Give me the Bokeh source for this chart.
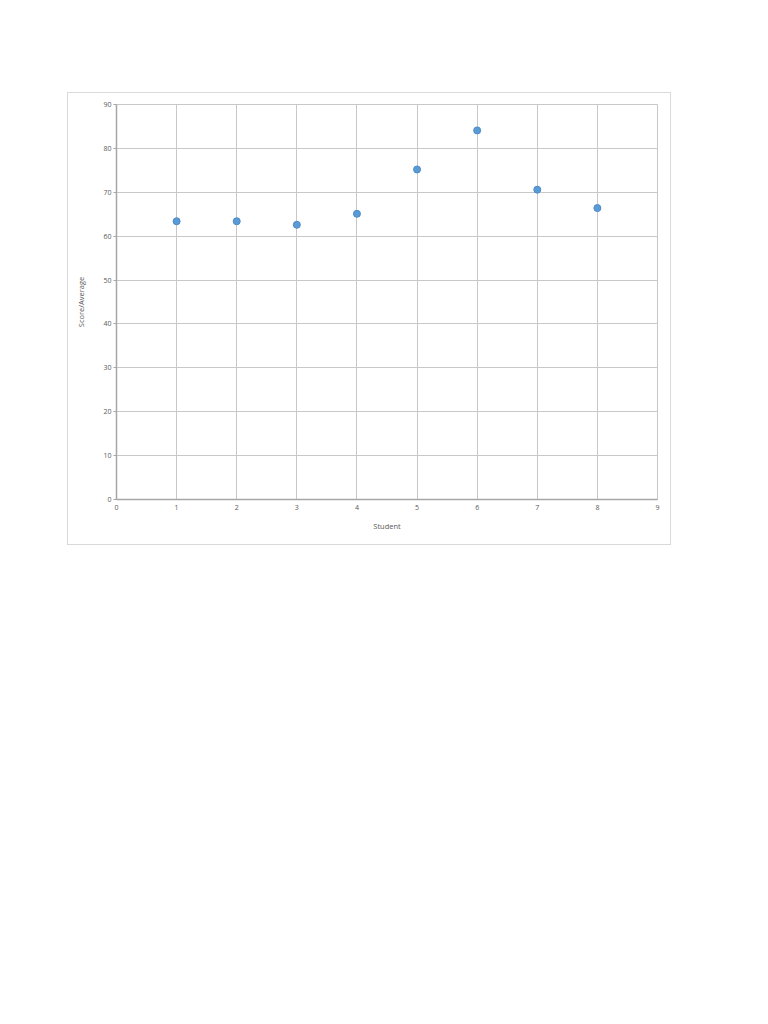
from bokeh.plotting import figure
from bokeh.models import Range1d, FixedTicker
from bokeh.embed import file_html
from bokeh.resources import INLINE

# values
students = [1, 2, 3, 4, 5, 6, 7, 8]
scores = [63.4, 63.4, 62.6, 65.1, 75.2, 84.1, 70.6, 66.4]
x_ticks = [0, 1, 2, 3, 4, 5, 6, 7, 8, 9]
y_ticks = [0, 10, 20, 30, 40, 50, 60, 70, 80, 90]

FONT = "Open Sans"
TXT = "#595959"
GRID = "#c8c8c8"
AXIS = "#a6a6a6"

p = figure(width=604, height=453, output_backend="svg", toolbar_location=None,
           x_range=Range1d(0, 9), y_range=Range1d(0, 90),
           min_border_left=48, min_border_right=15,
           min_border_top=11, min_border_bottom=47)
p.margin = (92, 0, 0, 67)
p.styles = {"border": "1px solid #d9d9d9", "box-sizing": "border-box"}

p.scatter(students, scores, size=7, color="#5b9bd5", line_color="#4a8ac9")

p.outline_line_color = GRID
p.outline_line_width = 1
p.background_fill_color = "white"
p.border_fill_color = "white"

for ax, ticks in ((p.xaxis, x_ticks), (p.yaxis, y_ticks)):
    ax.ticker = FixedTicker(ticks=ticks)
    ax.axis_line_color = AXIS
    ax.axis_line_width = 1.5
    ax.major_tick_line_color = AXIS
    ax.major_tick_out = 3
    ax.major_tick_in = 0
    ax.minor_tick_line_color = None
    ax.major_label_text_font = FONT
    ax.major_label_text_font_size = "7px"
    ax.major_label_text_color = TXT
    ax.axis_label_text_font = FONT
    ax.axis_label_text_font_size = "7.5px"
    ax.axis_label_text_font_style = "normal"
    ax.axis_label_text_color = TXT

p.xaxis.major_tick_line_color = None
p.xaxis.major_label_standoff = 2
p.yaxis.major_label_standoff = 2
p.xaxis.axis_label = "Student"
p.xaxis.axis_label_standoff = 8
p.yaxis.axis_label = "Score/Average"
p.yaxis.axis_label_standoff = 14

p.xgrid.ticker = FixedTicker(ticks=x_ticks)
p.ygrid.ticker = FixedTicker(ticks=y_ticks)
p.grid.grid_line_color = GRID
p.grid.grid_line_width = 1

open("out.html", "w").write(file_html(p, INLINE))
